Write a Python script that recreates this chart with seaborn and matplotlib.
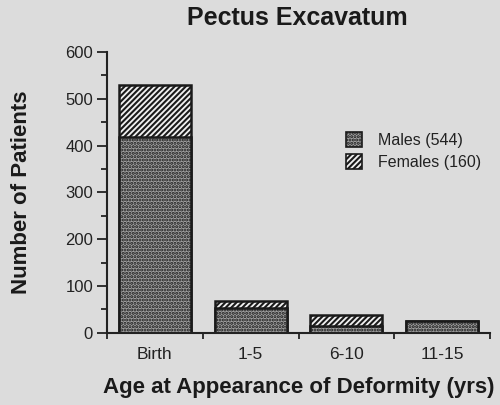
import matplotlib
matplotlib.use("Agg")
import matplotlib.pyplot as plt
import seaborn as sns
import pandas as pd
import numpy as np
from matplotlib.patches import Patch
from matplotlib.ticker import MultipleLocator

categories = ["Birth", "1-5", "6-10", "11-15"]
males = [418, 53, 15, 26]
females = [111, 15, 23, 0]
legend_labels = ["Males (544)", "Females (160)"]

sns.set_theme(style="ticks")
plt.rcParams["font.family"] = ["Liberation Sans", "DejaVu Sans"]
plt.rcParams["hatch.linewidth"] = 1.5

bg = "#dcdcdc"
male_col = "#a0a0a0"
fem_col = "#f0f0f0"

fig = plt.figure(figsize=(5.0, 4.05), dpi=100, facecolor=bg)
ax = fig.add_axes([0.214, 0.178, 0.766, 0.694])
ax.set_facecolor(bg)

totals = [m + f for m, f in zip(males, females)]
df_tot = pd.DataFrame({"cat": categories, "val": totals})
df_m = pd.DataFrame({"cat": categories, "val": males})

sns.barplot(data=df_tot, x="cat", y="val", order=categories, color=fem_col,
            width=0.75, edgecolor="#1a1a1a", linewidth=1.8, ax=ax, saturation=1)
n_f = len(ax.patches)
for p in ax.patches[:n_f]:
    p.set_hatch("//////")
sns.barplot(data=df_m, x="cat", y="val", order=categories, color=male_col,
            width=0.75, edgecolor="#1a1a1a", linewidth=1.8, ax=ax, saturation=1)
for p in ax.patches[n_f:]:
    p.set_hatch(".....")
    p.set_linewidth(1.8)

ax.set_xlim(-0.5, 3.5)
ax.set_ylim(0, 600)
ax.yaxis.set_major_locator(MultipleLocator(100))
ax.yaxis.set_minor_locator(MultipleLocator(50))
ax.set_xticks(np.arange(-0.5, 4.0, 1.0))
ax.set_xticklabels([])
ax.set_xticks(np.arange(len(categories)), minor=True)
ax.set_xticklabels(categories, minor=True, fontsize=12.5, color="#222222")
ax.tick_params(axis="x", which="minor", length=0, pad=10)
ax.tick_params(axis="x", which="major", length=4, width=1.3, color="#222222", direction="out")
ax.tick_params(axis="y", which="major", length=7, width=1.3, labelsize=12, color="#222222", labelcolor="#222222", pad=3)
ax.tick_params(axis="y", which="minor", length=4, width=1.3, color="#222222")
for s in ["top", "right"]:
    ax.spines[s].set_visible(False)
for s in ["left", "bottom"]:
    ax.spines[s].set_linewidth(1.5)
    ax.spines[s].set_color("#222222")

ax.set_xlabel("Age at Appearance of Deformity (yrs)", fontsize=16, fontweight="bold", color="#1a1a1a", labelpad=11)
ax.set_ylabel("Number of Patients", fontsize=16, fontweight="bold", color="#1a1a1a", labelpad=24)
fig.text(0.594, 0.955, "Pectus Excavatum", ha="center", va="center", fontsize=18,
         fontweight="bold", color="#1a1a1a")

handles = [Patch(facecolor=male_col, edgecolor="#1a1a1a", hatch=".....", linewidth=1.2),
           Patch(facecolor=fem_col, edgecolor="#1a1a1a", hatch="//////", linewidth=1.2)]
leg = ax.legend(handles, legend_labels, loc="upper left", bbox_to_anchor=(0.587, 0.765),
                frameon=False, fontsize=11.5, handlelength=1.0, handleheight=1.0,
                handletextpad=1.0, labelspacing=0.4)
for t in leg.get_texts():
    t.set_color("#222222")

fig.savefig("out.png", dpi=100, facecolor=bg)
